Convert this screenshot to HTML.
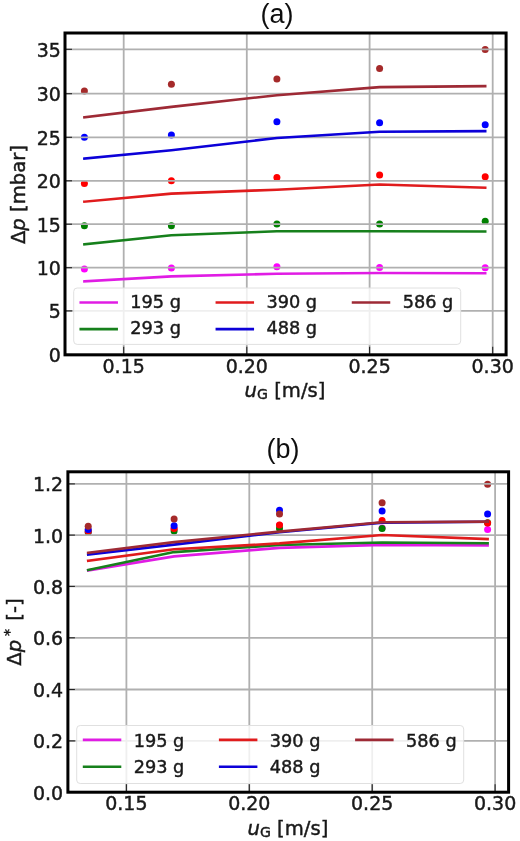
<!DOCTYPE html>
<html><head><meta charset="utf-8"><title>plot</title><style>html,body{margin:0;padding:0;background:#fff;}svg{display:block;}</style></head><body>
<svg width="520" height="841" viewBox="0 0 520 841">
<style>.t{font-family:'DejaVu Sans', 'Liberation Sans', sans-serif;fill:#1a1a1a;stroke:#1a1a1a;stroke-width:0.45px;}</style>
<rect width="520" height="841" fill="#fff"/>
<defs><filter id="bl" x="0" y="0" width="1" height="1"><feGaussianBlur stdDeviation="0.45"/></filter></defs><g filter="url(#bl)">
<rect width="520" height="841" fill="#fff"/>
<rect x="65" y="33" width="441.1" height="321.85" fill="#fff"/>
<circle cx="84.4" cy="269" r="3.5" fill="#ff00ff"/>
<circle cx="171.4" cy="267.9" r="3.5" fill="#ff00ff"/>
<circle cx="276.9" cy="266.7" r="3.5" fill="#ff00ff"/>
<circle cx="379.6" cy="267.5" r="3.5" fill="#ff00ff"/>
<circle cx="485.2" cy="267.8" r="3.5" fill="#ff00ff"/>
<circle cx="84.4" cy="225.7" r="3.5" fill="#008000"/>
<circle cx="171.4" cy="225.7" r="3.5" fill="#008000"/>
<circle cx="276.9" cy="224.1" r="3.5" fill="#008000"/>
<circle cx="379.6" cy="224.1" r="3.5" fill="#008000"/>
<circle cx="485.2" cy="221.3" r="3.5" fill="#008000"/>
<circle cx="84.4" cy="183.6" r="3.5" fill="#ff0000"/>
<circle cx="171.4" cy="180.7" r="3.5" fill="#ff0000"/>
<circle cx="276.9" cy="177.5" r="3.5" fill="#ff0000"/>
<circle cx="379.6" cy="175" r="3.5" fill="#ff0000"/>
<circle cx="485.2" cy="176.7" r="3.5" fill="#ff0000"/>
<circle cx="84.4" cy="137.2" r="3.5" fill="#0000ff"/>
<circle cx="171.4" cy="134.9" r="3.5" fill="#0000ff"/>
<circle cx="276.9" cy="121.7" r="3.5" fill="#0000ff"/>
<circle cx="379.6" cy="122.8" r="3.5" fill="#0000ff"/>
<circle cx="485.2" cy="124.7" r="3.5" fill="#0000ff"/>
<circle cx="84.4" cy="91" r="3.5" fill="#a52a2a"/>
<circle cx="171.4" cy="84.3" r="3.5" fill="#a52a2a"/>
<circle cx="276.9" cy="79.1" r="3.5" fill="#a52a2a"/>
<circle cx="379.6" cy="68.4" r="3.5" fill="#a52a2a"/>
<circle cx="485.2" cy="49.5" r="3.5" fill="#a52a2a"/>
<line x1="123.7" y1="33" x2="123.7" y2="354.85" stroke="#b0b0b0" stroke-width="1.8"/>
<line x1="246.8" y1="33" x2="246.8" y2="354.85" stroke="#b0b0b0" stroke-width="1.8"/>
<line x1="369.6" y1="33" x2="369.6" y2="354.85" stroke="#b0b0b0" stroke-width="1.8"/>
<line x1="492.7" y1="33" x2="492.7" y2="354.85" stroke="#b0b0b0" stroke-width="1.8"/>
<line x1="65" y1="354.5" x2="506.1" y2="354.5" stroke="#b0b0b0" stroke-width="1.8"/>
<line x1="65" y1="310.9" x2="506.1" y2="310.9" stroke="#b0b0b0" stroke-width="1.8"/>
<line x1="65" y1="267.7" x2="506.1" y2="267.7" stroke="#b0b0b0" stroke-width="1.8"/>
<line x1="65" y1="224.2" x2="506.1" y2="224.2" stroke="#b0b0b0" stroke-width="1.8"/>
<line x1="65" y1="180.8" x2="506.1" y2="180.8" stroke="#b0b0b0" stroke-width="1.8"/>
<line x1="65" y1="137.3" x2="506.1" y2="137.3" stroke="#b0b0b0" stroke-width="1.8"/>
<line x1="65" y1="93.7" x2="506.1" y2="93.7" stroke="#b0b0b0" stroke-width="1.8"/>
<line x1="65" y1="49.3" x2="506.1" y2="49.3" stroke="#b0b0b0" stroke-width="1.8"/>
<polyline points="84.4,281.4 171.4,276.4 276.9,273.7 379.6,273 485.2,273.3" fill="none" stroke="#e01ee4" stroke-width="2.6" stroke-linecap="square" stroke-linejoin="round"/>
<polyline points="84.4,244.3 171.4,235.3 276.9,231.3 379.6,231.2 485.2,231.5" fill="none" stroke="#16801a" stroke-width="2.6" stroke-linecap="square" stroke-linejoin="round"/>
<polyline points="84.4,201.7 171.4,193.6 276.9,189.7 379.6,184.5 485.2,187.7" fill="none" stroke="#e01a1e" stroke-width="2.6" stroke-linecap="square" stroke-linejoin="round"/>
<polyline points="84.4,158.6 171.4,150.3 276.9,138 379.6,131.8 485.2,131.1" fill="none" stroke="#0800d8" stroke-width="2.6" stroke-linecap="square" stroke-linejoin="round"/>
<polyline points="84.4,117.3 171.4,106.9 276.9,95.2 379.6,87.1 485.2,86.1" fill="none" stroke="#9e2a36" stroke-width="2.6" stroke-linecap="square" stroke-linejoin="round"/>
<line x1="123.7" y1="354.85" x2="123.7" y2="346.85" stroke="#222" stroke-width="1.1"/>
<line x1="246.8" y1="354.85" x2="246.8" y2="346.85" stroke="#222" stroke-width="1.1"/>
<line x1="369.6" y1="354.85" x2="369.6" y2="346.85" stroke="#222" stroke-width="1.1"/>
<line x1="492.7" y1="354.85" x2="492.7" y2="346.85" stroke="#222" stroke-width="1.1"/>
<line x1="65" y1="354.5" x2="72" y2="354.5" stroke="#222" stroke-width="1.1"/>
<line x1="65" y1="310.9" x2="72" y2="310.9" stroke="#222" stroke-width="1.1"/>
<line x1="65" y1="267.7" x2="72" y2="267.7" stroke="#222" stroke-width="1.1"/>
<line x1="65" y1="224.2" x2="72" y2="224.2" stroke="#222" stroke-width="1.1"/>
<line x1="65" y1="180.8" x2="72" y2="180.8" stroke="#222" stroke-width="1.1"/>
<line x1="65" y1="137.3" x2="72" y2="137.3" stroke="#222" stroke-width="1.1"/>
<line x1="65" y1="93.7" x2="72" y2="93.7" stroke="#222" stroke-width="1.1"/>
<line x1="65" y1="49.3" x2="72" y2="49.3" stroke="#222" stroke-width="1.1"/>
<rect x="73.7" y="288" width="387" height="56.4" rx="3.5" ry="3.5" fill="#fff" fill-opacity="0.8" stroke="#e0e0e0" stroke-width="1.0"/>
<line x1="79.46" y1="302.45" x2="117.96" y2="302.45" stroke="#e01ee4" stroke-width="2.6"/>
<text x="130.36" y="307.95" class="t" font-size="17.7">195 g</text>
<line x1="79.46" y1="329.1" x2="117.96" y2="329.1" stroke="#16801a" stroke-width="2.6"/>
<text x="130.36" y="334" class="t" font-size="17.7">293 g</text>
<line x1="215.56" y1="302.45" x2="254.06" y2="302.45" stroke="#e01a1e" stroke-width="2.6"/>
<text x="266.46" y="307.95" class="t" font-size="17.7">390 g</text>
<line x1="215.56" y1="329.1" x2="254.06" y2="329.1" stroke="#0800d8" stroke-width="2.6"/>
<text x="266.46" y="334" class="t" font-size="17.7">488 g</text>
<line x1="351.76" y1="302.45" x2="390.26" y2="302.45" stroke="#9e2a36" stroke-width="2.6"/>
<text x="402.66" y="307.95" class="t" font-size="17.7">586 g</text>
<rect x="65" y="33" width="441.1" height="321.85" fill="none" stroke="#000" stroke-width="3.0"/>
<text x="60.9" y="361.9" text-anchor="end" class="t" font-size="19.0">0</text>
<text x="60.9" y="318.3" text-anchor="end" class="t" font-size="19.0">5</text>
<text x="60.9" y="275.1" text-anchor="end" class="t" font-size="19.0">10</text>
<text x="60.9" y="231.6" text-anchor="end" class="t" font-size="19.0">15</text>
<text x="60.9" y="188.2" text-anchor="end" class="t" font-size="19.0">20</text>
<text x="60.9" y="144.7" text-anchor="end" class="t" font-size="19.0">25</text>
<text x="60.9" y="101.1" text-anchor="end" class="t" font-size="19.0">30</text>
<text x="60.9" y="56.7" text-anchor="end" class="t" font-size="19.0">35</text>
<text x="123.7" y="372.9" text-anchor="middle" class="t" font-size="19.0">0.15</text>
<text x="246.8" y="372.9" text-anchor="middle" class="t" font-size="19.0">0.20</text>
<text x="369.6" y="372.9" text-anchor="middle" class="t" font-size="19.0">0.25</text>
<text x="492.7" y="372.9" text-anchor="middle" class="t" font-size="19.0">0.30</text>
<text x="277" y="23" text-anchor="middle" font-family="'Liberation Sans', Arial, sans-serif" font-size="27" fill="#111">(a)</text>
<text x="285" y="396.6" text-anchor="middle" class="t" font-size="19.6"><tspan font-style="italic">u</tspan><tspan font-size="14.1" dy="2.6">G</tspan><tspan dy="-2.6"> [m/s]</tspan></text>
<text transform="translate(24.7,194.6) rotate(-90)" text-anchor="middle" class="t" font-size="19.6"><tspan>Δ</tspan><tspan font-style="italic">p</tspan><tspan> [mbar]</tspan></text>
<rect x="67.9" y="471.8" width="440.7" height="320.4" fill="#fff"/>
<circle cx="88.2" cy="532.6" r="3.5" fill="#ff00ff"/>
<circle cx="174.1" cy="529" r="3.5" fill="#ff00ff"/>
<circle cx="279.5" cy="525.2" r="3.5" fill="#ff00ff"/>
<circle cx="382.1" cy="528" r="3.5" fill="#ff00ff"/>
<circle cx="487.6" cy="529.6" r="3.5" fill="#ff00ff"/>
<circle cx="88.2" cy="532" r="3.5" fill="#008000"/>
<circle cx="174.1" cy="531.1" r="3.5" fill="#008000"/>
<circle cx="279.5" cy="528.6" r="3.5" fill="#008000"/>
<circle cx="382.1" cy="528.6" r="3.5" fill="#008000"/>
<circle cx="487.6" cy="522.8" r="3.5" fill="#008000"/>
<circle cx="88.2" cy="531" r="3.5" fill="#ff0000"/>
<circle cx="174.1" cy="528.4" r="3.5" fill="#ff0000"/>
<circle cx="279.5" cy="525" r="3.5" fill="#ff0000"/>
<circle cx="382.1" cy="520.4" r="3.5" fill="#ff0000"/>
<circle cx="487.6" cy="522.9" r="3.5" fill="#ff0000"/>
<circle cx="88.2" cy="529.6" r="3.5" fill="#0000ff"/>
<circle cx="174.1" cy="525.7" r="3.5" fill="#0000ff"/>
<circle cx="279.5" cy="510.3" r="3.5" fill="#0000ff"/>
<circle cx="382.1" cy="511.1" r="3.5" fill="#0000ff"/>
<circle cx="487.6" cy="513.9" r="3.5" fill="#0000ff"/>
<circle cx="88.2" cy="526.3" r="3.5" fill="#a52a2a"/>
<circle cx="174.1" cy="519.1" r="3.5" fill="#a52a2a"/>
<circle cx="279.5" cy="513.9" r="3.5" fill="#a52a2a"/>
<circle cx="382.1" cy="502.7" r="3.5" fill="#a52a2a"/>
<circle cx="487.6" cy="484.3" r="3.5" fill="#a52a2a"/>
<line x1="126.4" y1="471.8" x2="126.4" y2="792.2" stroke="#b0b0b0" stroke-width="1.8"/>
<line x1="249.3" y1="471.8" x2="249.3" y2="792.2" stroke="#b0b0b0" stroke-width="1.8"/>
<line x1="372.2" y1="471.8" x2="372.2" y2="792.2" stroke="#b0b0b0" stroke-width="1.8"/>
<line x1="495.1" y1="471.8" x2="495.1" y2="792.2" stroke="#b0b0b0" stroke-width="1.8"/>
<line x1="67.9" y1="792.3" x2="508.6" y2="792.3" stroke="#b0b0b0" stroke-width="1.8"/>
<line x1="67.9" y1="740.9" x2="508.6" y2="740.9" stroke="#b0b0b0" stroke-width="1.8"/>
<line x1="67.9" y1="689.5" x2="508.6" y2="689.5" stroke="#b0b0b0" stroke-width="1.8"/>
<line x1="67.9" y1="637.8" x2="508.6" y2="637.8" stroke="#b0b0b0" stroke-width="1.8"/>
<line x1="67.9" y1="586.4" x2="508.6" y2="586.4" stroke="#b0b0b0" stroke-width="1.8"/>
<line x1="67.9" y1="535.1" x2="508.6" y2="535.1" stroke="#b0b0b0" stroke-width="1.8"/>
<line x1="67.9" y1="483.9" x2="508.6" y2="483.9" stroke="#b0b0b0" stroke-width="1.8"/>
<polyline points="88.2,570.4 174.1,556.4 279.5,547.9 382.1,544.9 487.6,545.4" fill="none" stroke="#e01ee4" stroke-width="2.6" stroke-linecap="square" stroke-linejoin="round"/>
<polyline points="88.2,570 174.1,552.1 279.5,545 382.1,542.5 487.6,543.2" fill="none" stroke="#16801a" stroke-width="2.6" stroke-linecap="square" stroke-linejoin="round"/>
<polyline points="88.2,560.7 174.1,549.3 279.5,543.4 382.1,535 487.6,539.1" fill="none" stroke="#e01a1e" stroke-width="2.6" stroke-linecap="square" stroke-linejoin="round"/>
<polyline points="88.2,554.6 174.1,544.6 279.5,532.2 382.1,522.6 487.6,521.8" fill="none" stroke="#0800d8" stroke-width="2.6" stroke-linecap="square" stroke-linejoin="round"/>
<polyline points="88.2,552.9 174.1,542.1 279.5,531.6 382.1,522.3 487.6,521.6" fill="none" stroke="#9e2a36" stroke-width="2.6" stroke-linecap="square" stroke-linejoin="round"/>
<line x1="126.4" y1="792.2" x2="126.4" y2="784.2" stroke="#222" stroke-width="1.1"/>
<line x1="249.3" y1="792.2" x2="249.3" y2="784.2" stroke="#222" stroke-width="1.1"/>
<line x1="372.2" y1="792.2" x2="372.2" y2="784.2" stroke="#222" stroke-width="1.1"/>
<line x1="495.1" y1="792.2" x2="495.1" y2="784.2" stroke="#222" stroke-width="1.1"/>
<line x1="67.9" y1="792.3" x2="74.9" y2="792.3" stroke="#222" stroke-width="1.1"/>
<line x1="67.9" y1="740.9" x2="74.9" y2="740.9" stroke="#222" stroke-width="1.1"/>
<line x1="67.9" y1="689.5" x2="74.9" y2="689.5" stroke="#222" stroke-width="1.1"/>
<line x1="67.9" y1="637.8" x2="74.9" y2="637.8" stroke="#222" stroke-width="1.1"/>
<line x1="67.9" y1="586.4" x2="74.9" y2="586.4" stroke="#222" stroke-width="1.1"/>
<line x1="67.9" y1="535.1" x2="74.9" y2="535.1" stroke="#222" stroke-width="1.1"/>
<line x1="67.9" y1="483.9" x2="74.9" y2="483.9" stroke="#222" stroke-width="1.1"/>
<rect x="76.7" y="725.5" width="387" height="58" rx="3.5" ry="3.5" fill="#fff" fill-opacity="0.8" stroke="#e0e0e0" stroke-width="1.0"/>
<line x1="82.8" y1="739.9" x2="121.3" y2="739.9" stroke="#e01ee4" stroke-width="2.6"/>
<text x="133.7" y="746.5" class="t" font-size="17.7">195 g</text>
<line x1="82.8" y1="766.7" x2="121.3" y2="766.7" stroke="#16801a" stroke-width="2.6"/>
<text x="133.7" y="772.8" class="t" font-size="17.7">293 g</text>
<line x1="218.9" y1="739.9" x2="257.4" y2="739.9" stroke="#e01a1e" stroke-width="2.6"/>
<text x="269.8" y="746.5" class="t" font-size="17.7">390 g</text>
<line x1="218.9" y1="766.7" x2="257.4" y2="766.7" stroke="#0800d8" stroke-width="2.6"/>
<text x="269.8" y="772.8" class="t" font-size="17.7">488 g</text>
<line x1="355.1" y1="739.9" x2="393.6" y2="739.9" stroke="#9e2a36" stroke-width="2.6"/>
<text x="406" y="746.5" class="t" font-size="17.7">586 g</text>
<rect x="67.9" y="471.8" width="440.7" height="320.4" fill="none" stroke="#000" stroke-width="3.0"/>
<text x="63.1" y="799.7" text-anchor="end" class="t" font-size="19.0">0.0</text>
<text x="63.1" y="748.3" text-anchor="end" class="t" font-size="19.0">0.2</text>
<text x="63.1" y="696.9" text-anchor="end" class="t" font-size="19.0">0.4</text>
<text x="63.1" y="645.2" text-anchor="end" class="t" font-size="19.0">0.6</text>
<text x="63.1" y="593.8" text-anchor="end" class="t" font-size="19.0">0.8</text>
<text x="63.1" y="542.5" text-anchor="end" class="t" font-size="19.0">1.0</text>
<text x="63.1" y="491.3" text-anchor="end" class="t" font-size="19.0">1.2</text>
<text x="126.4" y="810.2" text-anchor="middle" class="t" font-size="19.0">0.15</text>
<text x="249.3" y="810.2" text-anchor="middle" class="t" font-size="19.0">0.20</text>
<text x="372.2" y="810.2" text-anchor="middle" class="t" font-size="19.0">0.25</text>
<text x="495.1" y="810.2" text-anchor="middle" class="t" font-size="19.0">0.30</text>
<text x="282.9" y="457.8" text-anchor="middle" font-family="'Liberation Sans', Arial, sans-serif" font-size="27" fill="#111">(b)</text>
<text x="287.9" y="834.6" text-anchor="middle" class="t" font-size="19.6"><tspan font-style="italic">u</tspan><tspan font-size="14.1" dy="2.6">G</tspan><tspan dy="-2.6"> [m/s]</tspan></text>
<text transform="translate(20.8,632) rotate(-90)" text-anchor="middle" class="t" font-size="19.6"><tspan>Δ</tspan><tspan font-style="italic">p</tspan><tspan font-size="14.1" dx="4.0" dy="-7">*</tspan><tspan dx="2.0" dy="7"> [-]</tspan></text>
</g></svg>
</body></html>
